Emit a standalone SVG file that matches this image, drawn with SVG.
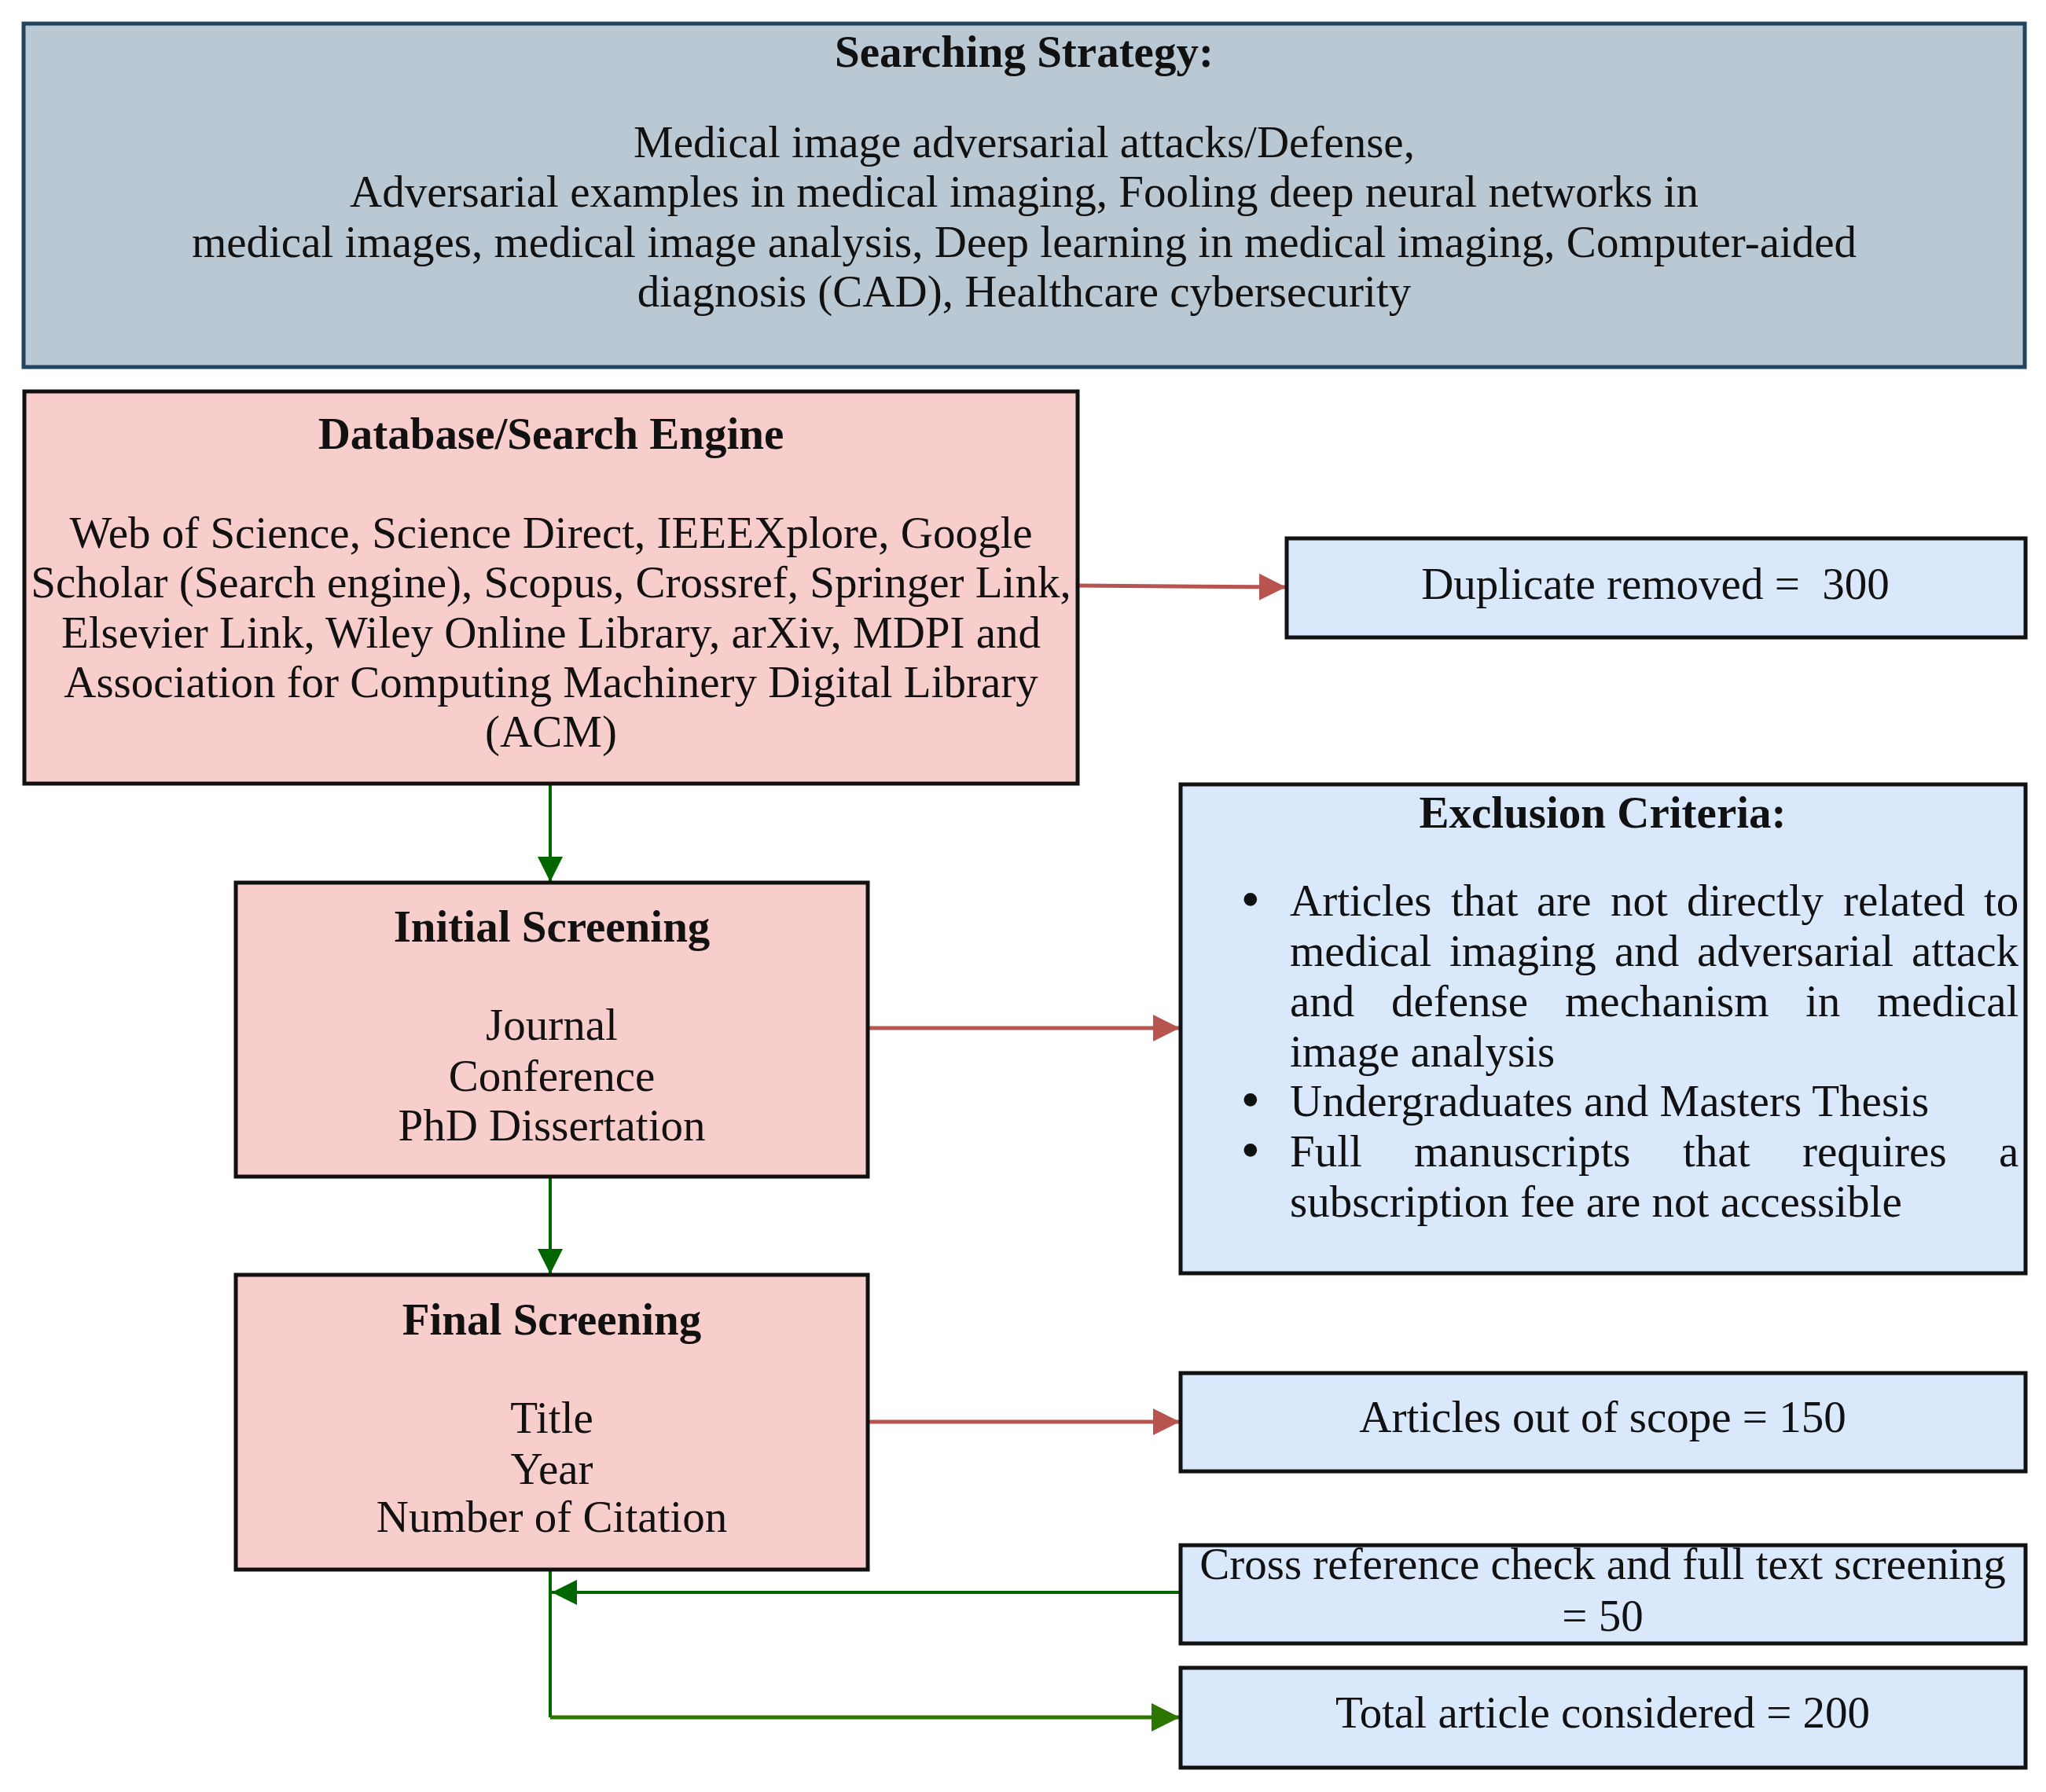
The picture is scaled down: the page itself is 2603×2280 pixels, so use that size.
<svg xmlns="http://www.w3.org/2000/svg" width="2603" height="2280" viewBox="0 0 2603 2280">
<defs>
<style>
text{font-family:"Liberation Serif","Times New Roman",serif;font-size:57px;fill:#111}
.b{font-weight:bold}
.m{text-anchor:middle}
.bul{font-size:62px;font-weight:bold}
.pink{fill:#F8CECC;stroke:#111;stroke-width:5}
.blue{fill:#DAE8FC;stroke:#111;stroke-width:5}
.top{fill:#BAC8D3;stroke:#23445D;stroke-width:5}
.red{stroke:#B85450;stroke-width:5;fill:none}
.grn{stroke:#006600;stroke-width:4;fill:none}
.grn2{stroke:#2D7600;stroke-width:5;fill:none}
</style>
<marker id="ar" markerUnits="userSpaceOnUse" markerWidth="34" markerHeight="34" refX="34" refY="17" orient="auto"><path d="M0,0 L34,17 L0,34 z" fill="#B85450"/></marker>
<marker id="ag" markerUnits="userSpaceOnUse" markerWidth="34" markerHeight="34" refX="32" refY="16" orient="auto"><path d="M0,0 L32,16 L0,32 z" fill="#006600"/></marker>
<marker id="ag2" markerUnits="userSpaceOnUse" markerWidth="36" markerHeight="36" refX="36" refY="18" orient="auto"><path d="M0,0 L36,18 L0,36 z" fill="#2D7600"/></marker>
</defs>
<rect width="2603" height="2280" fill="#fff"/>

<g id="connectors">
<path class="red" d="M1371,745 L1636,747" marker-end="url(#ar)"/>
<path class="grn" d="M700,998 L700,1122" marker-end="url(#ag)"/>
<path class="red" d="M1104,1308 L1501,1308" marker-end="url(#ar)"/>
<path class="grn" d="M700,1497 L700,1621" marker-end="url(#ag)"/>
<path class="red" d="M1104,1809 L1501,1809" marker-end="url(#ar)"/>
<path class="grn" d="M1501,2026 L702,2026" marker-end="url(#ag)"/>
<path class="grn" d="M700,1997 L700,2185"/>
<path class="grn2" d="M700,2185 L1501,2185" marker-end="url(#ag2)"/>
</g>

<g id="searching-strategy">
<rect class="top" x="30" y="30" width="2546" height="437"/>
<text class="b m" x="1303" y="85">Searching Strategy:</text>
<text class="m" x="1303" y="200">Medical image adversarial attacks/Defense,</text>
<text class="m" x="1303" y="263">Adversarial examples in medical imaging, Fooling deep neural networks in</text>
<text class="m" x="1303" y="327">medical images, medical image analysis, Deep learning in medical imaging, Computer-aided</text>
<text class="m" x="1303" y="390">diagnosis (CAD), Healthcare cybersecurity</text>
</g>

<g id="database">
<rect class="pink" x="31" y="498" width="1340" height="499"/>
<text class="b m" x="701" y="571">Database/Search Engine</text>
<text class="m" x="701" y="697">Web of Science, Science Direct, IEEEXplore, Google</text>
<text class="m" x="701" y="760">Scholar (Search engine), Scopus, Crossref, Springer Link,</text>
<text class="m" x="701" y="824">Elsevier Link, Wiley Online Library, arXiv, MDPI and</text>
<text class="m" x="701" y="887">Association for Computing Machinery Digital Library</text>
<text class="m" x="701" y="950">(ACM)</text>
</g>

<g id="duplicate">
<rect class="blue" x="1637" y="685" width="940" height="126"/>
<text class="m" x="2106" y="762" xml:space="preserve">Duplicate removed =  300</text>
</g>

<g id="initial-screening">
<rect class="pink" x="300" y="1123" width="804" height="374"/>
<text class="b m" x="702" y="1198">Initial Screening</text>
<text class="m" x="702" y="1323">Journal</text>
<text class="m" x="702" y="1388">Conference</text>
<text class="m" x="702" y="1451">PhD Dissertation</text>
</g>

<g id="exclusion">
<rect class="blue" x="1502" y="998" width="1075" height="622"/>
<text class="b m" x="2039" y="1053">Exclusion Criteria:</text>
<text class="bul" x="1580" y="1165">•</text>
<text y="1165"><tspan x="1641">Articles</tspan><tspan x="1846">that</tspan><tspan x="1955">are</tspan><tspan x="2049">not</tspan><tspan x="2146">directly</tspan><tspan x="2345">related</tspan><tspan x="2524">to</tspan></text>
<text y="1229"><tspan x="1641">medical</tspan><tspan x="1844">imaging</tspan><tspan x="2054">and</tspan><tspan x="2159">adversarial</tspan><tspan x="2432">attack</tspan></text>
<text y="1293"><tspan x="1641">and</tspan><tspan x="1770">defense</tspan><tspan x="1991">mechanism</tspan><tspan x="2297">in</tspan><tspan x="2388">medical</tspan></text>
<text x="1641" y="1357">image analysis</text>
<text class="bul" x="1580" y="1420">•</text>
<text x="1641" y="1420">Undergraduates and Masters Thesis</text>
<text class="bul" x="1580" y="1484">•</text>
<text y="1484"><tspan x="1641">Full</tspan><tspan x="1799">manuscripts</tspan><tspan x="2141">that</tspan><tspan x="2293">requires</tspan><tspan x="2543">a</tspan></text>
<text x="1641" y="1548">subscription fee are not accessible</text>
</g>

<g id="final-screening">
<rect class="pink" x="300" y="1622" width="804" height="375"/>
<text class="b m" x="702" y="1698">Final Screening</text>
<text class="m" x="702" y="1823">Title</text>
<text class="m" x="702" y="1888">Year</text>
<text class="m" x="702" y="1949">Number of Citation</text>
</g>

<g id="out-of-scope">
<rect class="blue" x="1502" y="1747" width="1075" height="125"/>
<text class="m" x="2039" y="1822">Articles out of scope = 150</text>
</g>

<g id="cross-reference">
<rect class="blue" x="1502" y="1966" width="1075" height="125"/>
<text class="m" x="2039" y="2009">Cross reference check and full text screening</text>
<text class="m" x="2039" y="2075">= 50</text>
</g>

<g id="total">
<rect class="blue" x="1502" y="2122" width="1075" height="127"/>
<text class="m" x="2039" y="2198">Total article considered = 200</text>
</g>
</svg>
